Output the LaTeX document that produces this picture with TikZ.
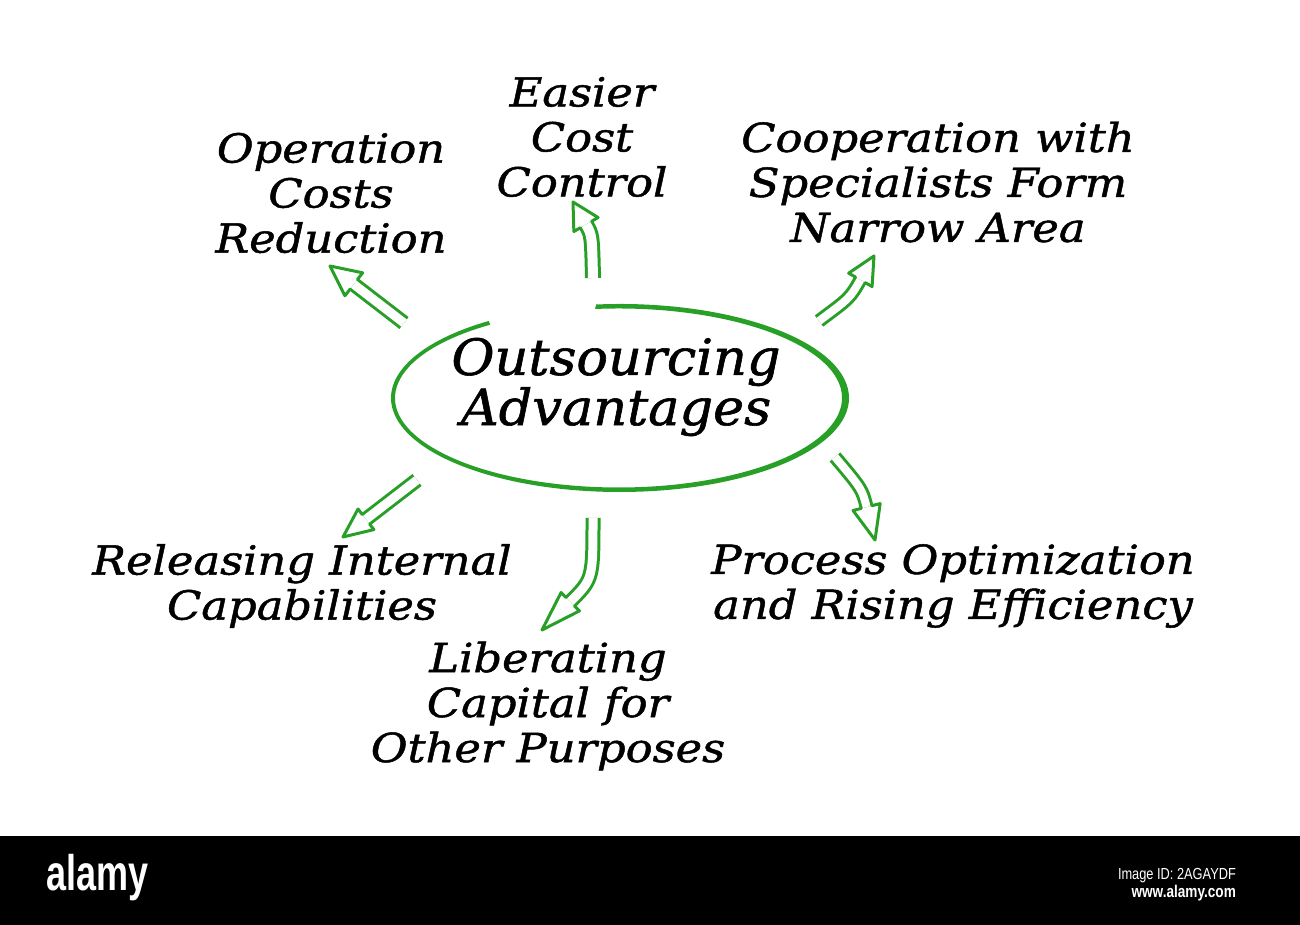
\documentclass[tikz,border=0pt]{standalone}
\usepackage{fontspec}
\setmainfont{DejaVu Serif}
\newfontfamily\hand{DejaVu Serif}[FakeStretch=1.12, FakeBold=1.2]
\newfontfamily\handmain{DejaVu Serif}[FakeStretch=1.05, FakeBold=1.2]
\newfontfamily\wmfont{Liberation Sans}
\usetikzlibrary{calc}
\definecolor{arrowgreen}{RGB}{40,160,40}
\tikzset{
  lbl/.style={font=\hand\itshape\fontsize{40}{45}\selectfont, align=center, inner sep=0pt, text=black},
  mainlbl/.style={font=\handmain\itshape\fontsize{50}{48}\selectfont, align=center, inner sep=0pt, text=black},
  shaft/.style={draw=arrowgreen, line width=3pt, double=white, double distance=#1},
  headline/.style={draw=arrowgreen, line width=3pt, line join=round, line cap=round},
  wm/.style={text=white, inner sep=0pt},
}
\newcommand\hhead[4]{\draw[headline] ($(#1)!#3!90:(#2)$) -- ($(#1)!#4!90:(#2)$) -- (#2) -- ($(#1)!#4!-90:(#2)$) -- ($(#1)!#3!-90:(#2)$);}
\begin{document}
\begin{tikzpicture}[x=1pt,y=1pt]
\useasboundingbox (0,0) rectangle (1300,925);
\fill[white] (0,0) rectangle (1300,925);

% central ellipse (open, hand-drawn look)
\coordinate (eo) at (620,527);
\coordinate (ei) at (618.5,527);
\fill[arrowgreen] ($(eo)+(96:229 and 94)$) arc[start angle=96, end angle=-235, x radius=229pt, y radius=94pt]
  -- ($(ei)+(-235:223.5 and 89.5)$) arc[start angle=-235, end angle=96, x radius=223.5pt, y radius=89.5pt] -- cycle;

\node[mainlbl] (core) at (616,538) {Outsourcing\\Advantages};

% labels
\node[lbl] (opc) at (331,732) {Operation\\Costs\\Reduction};
\node[lbl] (ecc) at (582,788) {Easier\\Cost\\Control};
\node[lbl] (cws) at (938,743) {Cooperation with\\Specialists Form\\Narrow Area};
\node[lbl] (ric) at (302,339) {Releasing Internal\\Capabilities};
\node[lbl] (lcp) at (548,219) {Liberating\\Capital for\\Other Purposes};
\node[lbl] (por) at (953,339) {Process Optimization\\and Rising Efficiency};

% arrow 1: to Operation Costs Reduction
\coordinate (a1s) at (404,602);
\coordinate (a1t) at (330,659);
\coordinate (a1b) at ($(a1t)!30pt!(a1s)$);
\draw[shaft=9pt] (a1s) -- (a1b);
\hhead{a1b}{a1t}{6pt}{14.5pt}

% arrow 2: to Easier Cost Control
\coordinate (a2s) at (593,647);
\coordinate (a2c) at (592,690);
\coordinate (a2t) at (573,723);
\coordinate (a2b) at ($(a2t)!26pt!(a2c)$);
\draw[shaft=10pt] (a2s) .. controls (a2c) .. (a2b);
\hhead{a2b}{a2t}{6.5pt}{14pt}

% arrow 3: to Cooperation
\coordinate (a3s) at (819,604);
\coordinate (a3c) at (850,627);
\coordinate (a3t) at (874,669);
\coordinate (a3b) at ($(a3t)!27.5pt!(a3c)$);
\draw[shaft=8pt] (a3s) .. controls (a3c) .. (a3b);
\hhead{a3b}{a3t}{5.5pt}{13.5pt}

% arrow 4: to Releasing Internal Capabilities
\coordinate (a4s) at (417,445);
\coordinate (a4t) at (343,388);
\coordinate (a4b) at ($(a4t)!29pt!(a4s)$);
\draw[shaft=9pt] (a4s) -- (a4b);
\hhead{a4b}{a4t}{6pt}{13pt}

% arrow 5: to Liberating Capital
\coordinate (a5s) at (593,407);
\coordinate (a5c) at (593,346);
\coordinate (a5t) at (542,295);
\coordinate (a5b) at ($(a5t)!40pt!(a5c)$);
\draw[shaft=9pt] (a5s) .. controls (a5c) .. (a5b);
\hhead{a5b}{a5t}{6pt}{13pt}

% arrow 6: to Process Optimization
\coordinate (a6s) at (835,468);
\coordinate (a6c) at (862,436);
\coordinate (a6t) at (875,385);
\coordinate (a6b) at ($(a6t)!34pt!(a6c)$);
\draw[shaft=8pt] (a6s) .. controls (a6c) .. (a6b);
\hhead{a6b}{a6t}{5.5pt}{14pt}

% bottom band
\fill[black] (0,0) rectangle (1300,89);
\node[wm, font=\wmfont\bfseries\fontsize{50}{50}\selectfont, xscale=0.72, anchor=west] (wmlogo) at (46,47) {alamy};
\node[wm, font=\wmfont\fontsize{16}{16}\selectfont, xscale=0.8, anchor=east] (wmid) at (1236,49) {Image ID: 2AGAYDF};
\node[wm, font=\wmfont\bfseries\fontsize{17}{17}\selectfont, xscale=0.8, anchor=east] (wmurl) at (1236,32) {www.alamy.com};
\end{tikzpicture}
\end{document}
